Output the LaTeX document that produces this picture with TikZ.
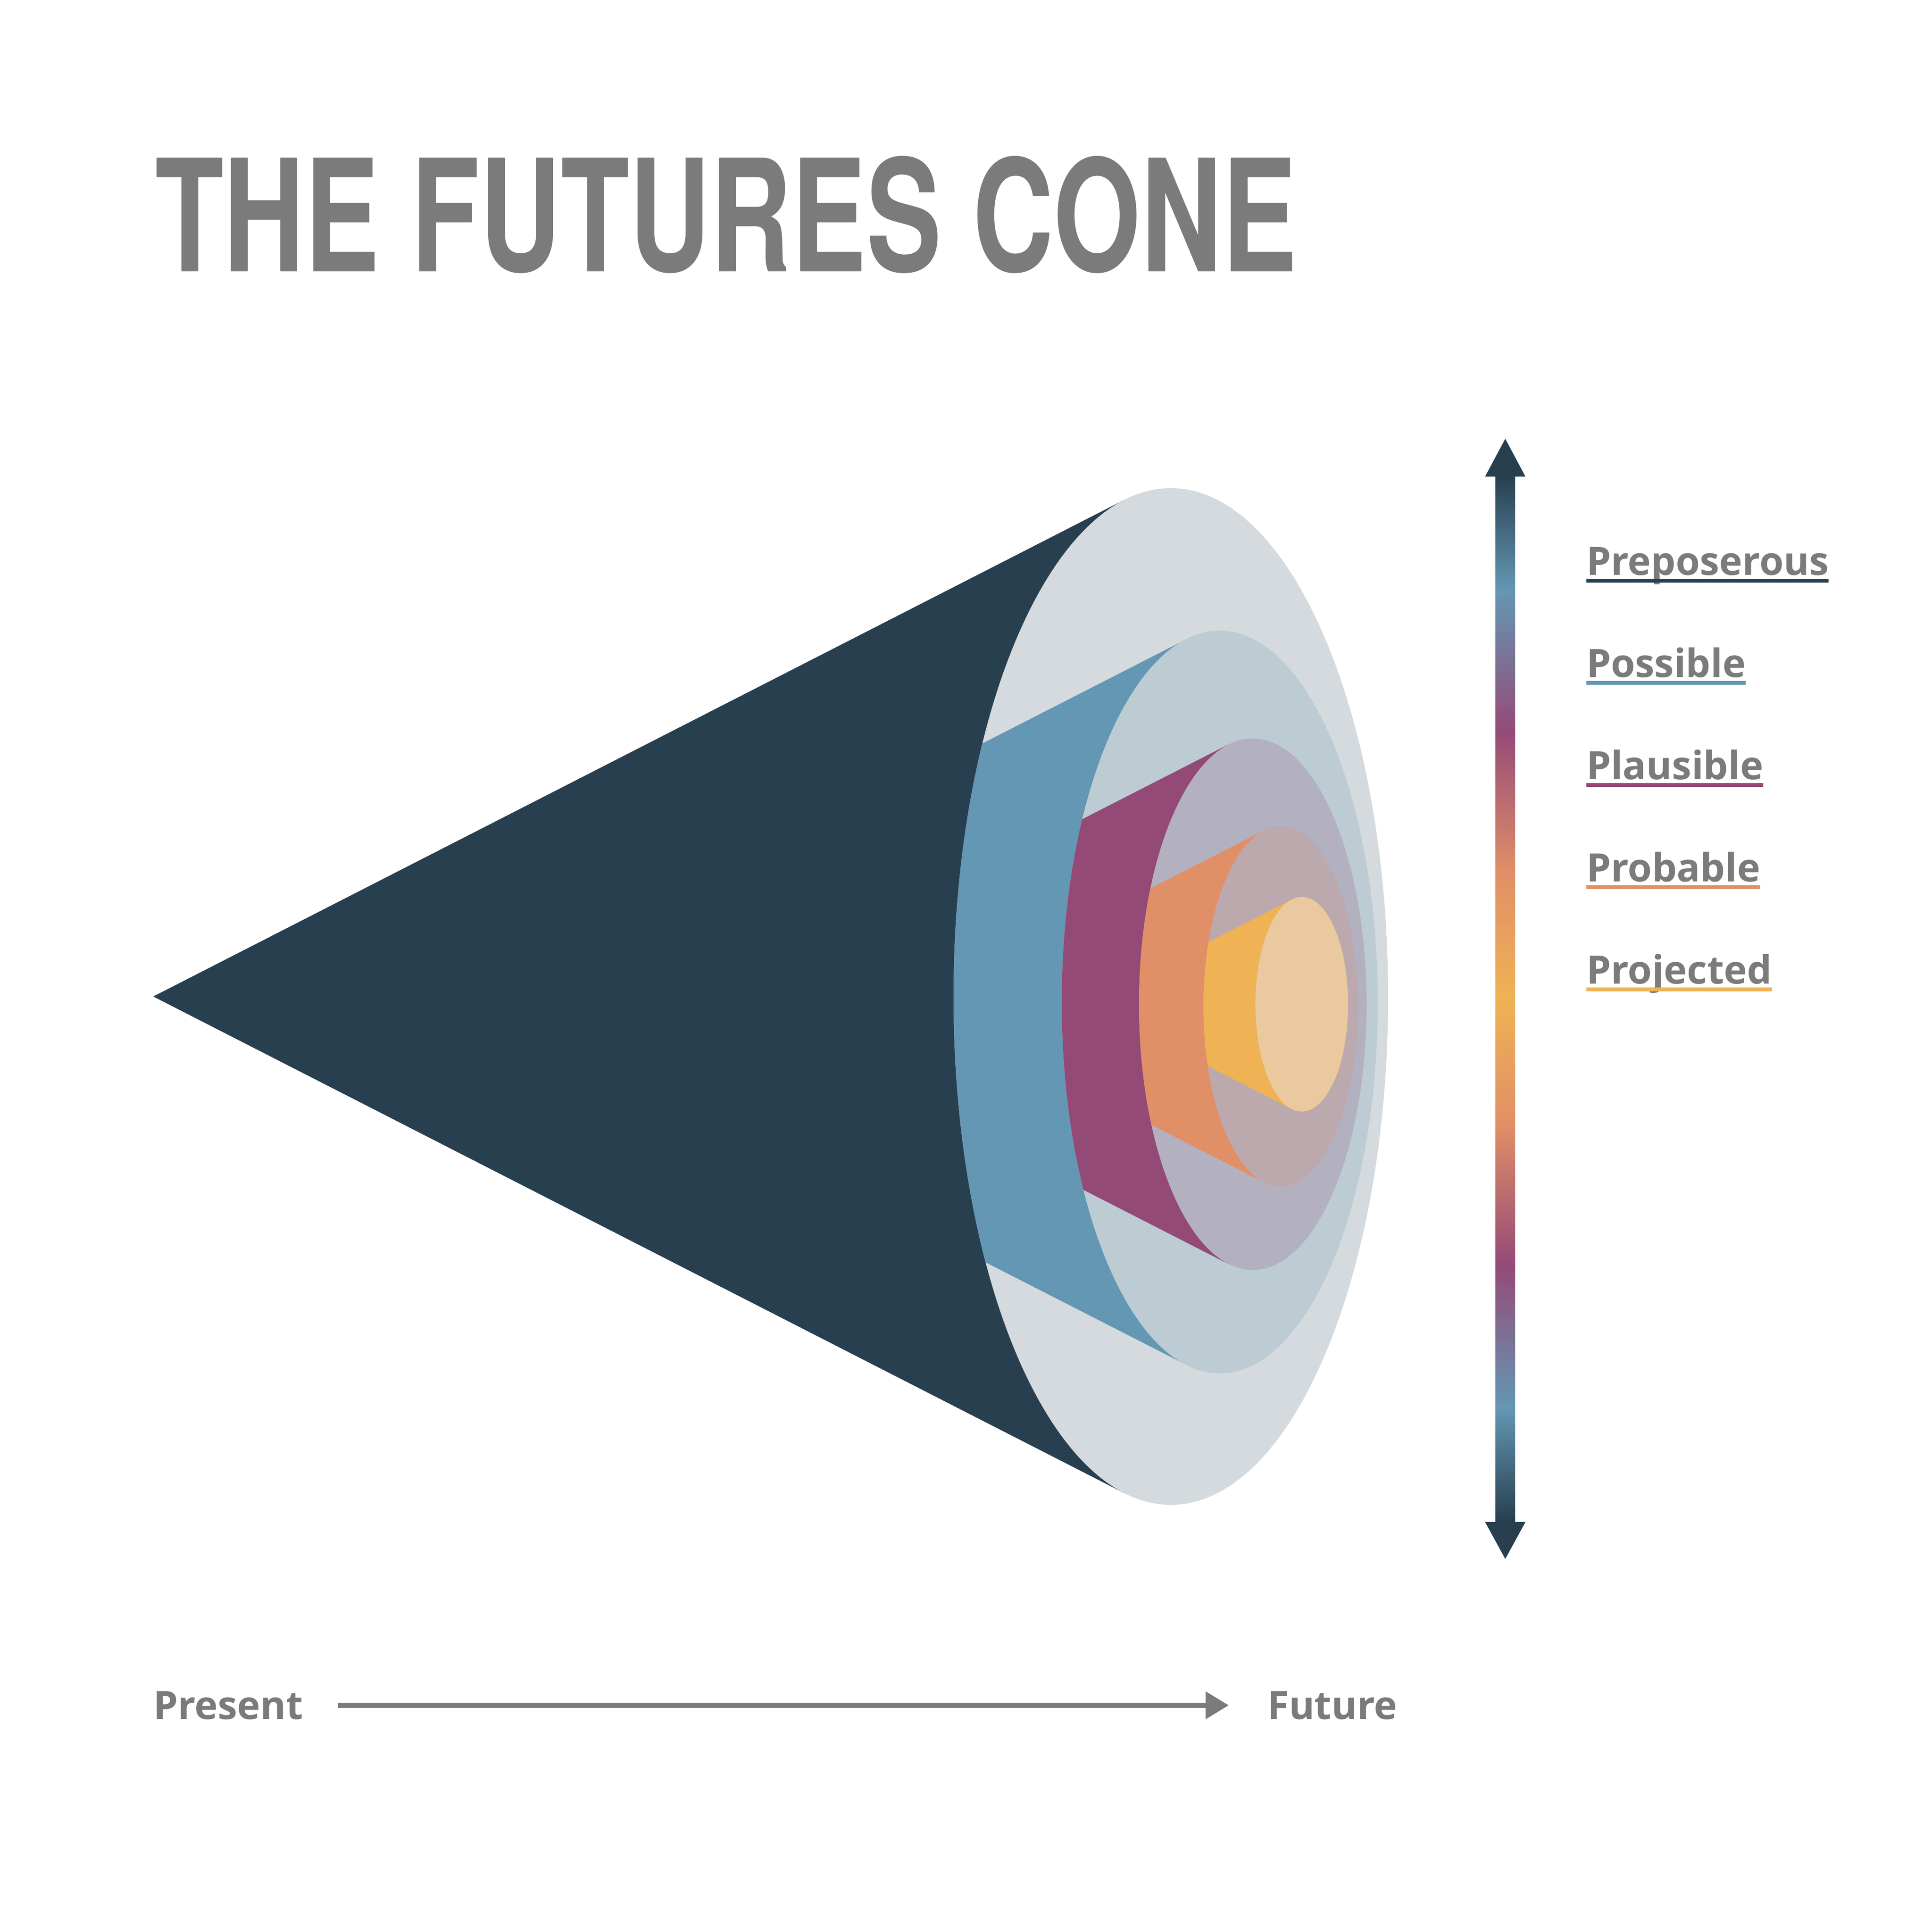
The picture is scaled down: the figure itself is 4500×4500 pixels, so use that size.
\documentclass[tikz,border=0pt]{standalone}
\usepackage{fontspec}
\usepackage{graphicx}
\usepackage{tikz}
\usetikzlibrary{arrows.meta}
\usetikzlibrary{calc}

\newfontfamily\titlefont{TeX Gyre Heros}
\newfontfamily\labelfont{Open Sans}

\definecolor{textgray}{HTML}{7B7B7B}
\definecolor{conedark}{HTML}{283F50}
\definecolor{ringone}{HTML}{D4DADD}
\definecolor{coneblue}{HTML}{6497B3}
\definecolor{ringtwo}{HTML}{BDCBD3}
\definecolor{conepurple}{HTML}{944A77}
\definecolor{ringthree}{HTML}{B3B1C0}
\definecolor{coneorange}{HTML}{E18F66}
\definecolor{ringfour}{HTML}{BCA9AD}
\definecolor{coneyellow}{HTML}{EFB254}
\definecolor{ringfive}{HTML}{E9C99D}

\pgfdeclareverticalshading{futureshade}{100bp}{color(0bp)=(conedark); color(26.7bp)=(conedark);
  color(31.75bp)=(coneblue); color(38.1bp)=(conepurple); color(44.4bp)=(coneorange);
  color(50bp)=(coneyellow); color(55.6bp)=(coneorange); color(61.9bp)=(conepurple);
  color(68.25bp)=(coneblue); color(73.3bp)=(conedark); color(100bp)=(conedark)}

\begin{document}
\begin{tikzpicture}[
                x=0.1mm, y=-0.1mm,
                every node/.style={inner sep=0pt, outer sep=0pt, text=textgray},
                legend/.style={font=\labelfont\bfseries\fontsize{25.9}{31}\selectfont, anchor=base west},
                underline/.style={line width=0.9mm},
                timearrow/.style={line width=1.15mm, draw=textgray, -{Triangle[length=5.4mm,width=6.2mm]}}
            ]

            \useasboundingbox[fill=white] (0,0) rectangle (4500,4500);

            % Title
            \node[anchor=base west] (title) at (361,633)
                {\resizebox{265.8mm}{26.9mm}{\titlefont\bfseries THE FUTURES CONE}};

            % Cone and rings
            \coordinate (apex) at (357,2321);
            \coordinate (ringA) at (2727,2321);
            \coordinate (ringB) at (2841,2334);
            \coordinate (ringC) at (2918,2339);
            \coordinate (ringD) at (2983,2344);
            \coordinate (ringE) at (3032,2339);

            \fill[conedark] (apex) -- (2619,1164) -- (2619,3478) -- cycle;
            \fill[ringone] (ringA) ellipse [x radius=506, y radius=1184];
            \begin{scope}
                \clip (ringA) ellipse [x radius=506, y radius=1184];
                \fill[coneblue] (1109,2334) -- (2763,1489) -- (2763,3179) -- cycle;
                \fill[ringtwo] (ringB) ellipse [x radius=368, y radius=865];
                \clip (ringB) ellipse [x radius=368, y radius=865];
                \fill[conepurple] (1678,2339) -- (2861,1734) -- (2861,2944) -- cycle;
                \fill[ringthree] (ringC) ellipse [x radius=265, y radius=619];
                \clip (ringC) ellipse [x radius=265, y radius=619];
                \fill[coneorange] (2142,2344) -- (2944,1934) -- (2944,2754) -- cycle;
                \fill[ringfour] (ringD) ellipse [x radius=180, y radius=420];
                \clip (ringD) ellipse [x radius=180, y radius=420];
                \fill[coneyellow] (2531,2339) -- (3009,2095) -- (3009,2583) -- cycle;
                \fill[ringfive] (ringE) ellipse [x radius=108, y radius=250];
            \end{scope}

            % Double arrow with colour scale
            \coordinate (arrtop) at (3506,1022);
            \coordinate (arrbot) at (3506,3631);
            \shade[shading=futureshade] (arrtop) -- ++(47,88) -- ++(-24,0) -- ++(0,2435) -- ++(24,0)
                -- (arrbot) -- ++(-47,-86) -- ++(24,0) -- ++(0,-2435) -- ++(-24,0) -- cycle;

            % Legend
            \node[legend] (prep) at (3695,1339) {Preposerous};
            \node[legend] (poss) at ([yshift=-23.8mm]prep.base west) {Possible};
            \node[legend] (plau) at ([yshift=-23.8mm]poss.base west) {Plausible};
            \node[legend] (prob) at ([yshift=-23.8mm]plau.base west) {Probable};
            \node[legend] (proj) at ([yshift=-23.8mm]prob.base west) {Projected};

            \draw[underline, conedark] ([yshift=-1.3mm]prep.base west) -- ([yshift=-1.3mm]prep.base east);
            \draw[underline, coneblue] ([yshift=-1.3mm]poss.base west) -- ([yshift=-1.3mm]poss.base east);
            \draw[underline, conepurple] ([yshift=-1.3mm]plau.base west) -- ([yshift=-1.3mm]plau.base east);
            \draw[underline, coneorange] ([yshift=-1.3mm]prob.base west) -- ([yshift=-1.3mm]prob.base east);
            \draw[underline, coneyellow] ([yshift=-1.3mm]proj.base west) -- ([yshift=-1.3mm]proj.base east);

            % Time axis
            \node[legend] (present) at (357,4004) {Present};
            \node[legend] (future) at (2952,4004) {Future};
            \draw[timearrow, shorten <=8.1mm, shorten >=9mm] (present.east) -- (future.west);

        \end{tikzpicture}
\end{document}
